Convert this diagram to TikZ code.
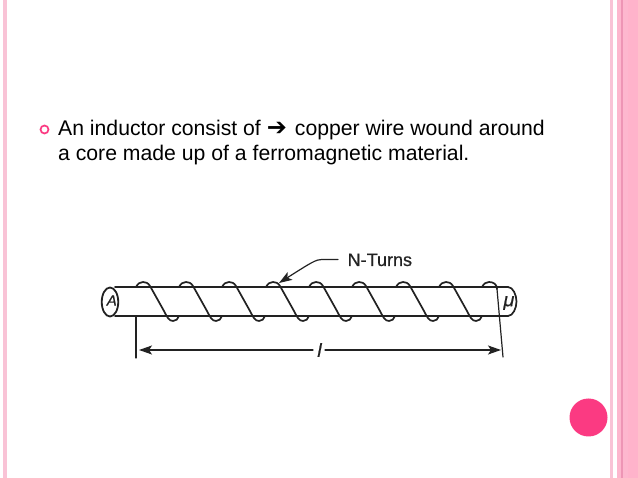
\documentclass[tikz,border=0pt]{standalone}
\usepackage{fontspec}
\setmainfont{Liberation Sans}
\newfontfamily\symfont{DejaVu Sans}
\newfontfamily\heavyfont[FakeBold=0.6]{Liberation Sans}
\newfontfamily\heavyital[FakeBold=0.6,FakeSlant=0.2]{Liberation Sans}
\usetikzlibrary{arrows.meta,shapes.geometric}
\definecolor{stripeA}{HTML}{F9C3D6}
\definecolor{stripeB}{HTML}{FDB7CE}
\definecolor{stripeC}{HTML}{EE95B5}
\definecolor{stripeD}{HTML}{FFB3CB}
\definecolor{hot}{HTML}{FB3A82}
\definecolor{ink}{HTML}{222222}
\tikzset{
  stripe/.style={fill=#1,draw=none},
  wire/.style={draw=ink,line width=1.7pt,line cap=round,line join=round},
  thin wire/.style={draw=ink,line width=1.2pt,line cap=round},
  tip/.style={-{Stealth[length=13pt,width=9pt,inset=3pt]}},
  body text/.style={anchor=base west,inner sep=0pt,font=\fontsize{21.2pt}{25pt}\selectfont,text=black},
  fig text/.style={inner sep=0pt,font=\fontsize{18pt}{20pt}\selectfont\heavyfont,text=ink},
  end label/.style={inner sep=0pt,font=\fontsize{19pt}{20pt}\selectfont\heavyital,text=ink}
}
\newcommand{\oneturn}[1]{%
  \draw[wire] (#1-7,287) .. controls (#1-5,283.5) and (#1-3,282) .. (#1,282)
     .. controls (#1+3,282) and (#1+5,283) .. (#1+7,286)
     -- (#1+21,311)
     .. controls (#1+24,317) and (#1+26,321) .. (#1+30,321)
     .. controls (#1+33,321) and (#1+35,319) .. (#1+36,316);}
\begin{document}
\begin{tikzpicture}[x=1pt,y=-1pt]
\useasboundingbox (0,0) rectangle (638,478);
\fill[white] (0,0) rectangle (638,478);
% borders
\fill[stripe=stripeA] (3,0) rectangle (7,478);
\fill[stripe=stripeA] (610,0) rectangle (613,478);
\fill[stripe=stripeB] (617,0) rectangle (621,478);
\fill[stripe=stripeC] (621,0) rectangle (623,478);
\fill[stripe=stripeB] (623,0) rectangle (628,478);
\fill[stripe=stripeD] (628,0) rectangle (638,478);
% corner disc
\fill[hot] (588.5,417.5) circle (19);
% bullet
\draw[hot,line width=1.7pt] (44.5,129.5) circle (4);
% text
\node[body text] (line1) at (58,135.5) {An inductor consist of {\fontsize{24pt}{25pt}\selectfont\symfont\symbol{"2794}}\hspace{2.2pt} copper wire wound around};
\node[body text] (line2) at (58,160.5) {a core made up of a ferromagnetic material.};
% core
\draw[wire] (115,287) -- (508,287);
\draw[wire] (115,316) -- (508,316);
\draw[wire] (508,287) .. controls (513,287) and (516.5,295) .. (516.5,301.5)
   .. controls (516.5,308) and (513,316) .. (508,316);
\node[draw=ink,line width=1.8pt,ellipse,minimum width=16.5pt,minimum height=29pt,inner sep=0pt] (endA) at (110,302) {};
\node[end label,font=\fontsize{15pt}{16pt}\selectfont\heavyital] (labelA) at (111,300.5) {A};
\node[end label] (labelmu) at (508,303) {μ};
% coil
\oneturn{143}\oneturn{186}\oneturn{229}\oneturn{273}\oneturn{316}\oneturn{359}\oneturn{403}\oneturn{446}
\draw[wire] (482,287) .. controls (484,283.5) and (486,282) .. (489,282)
   .. controls (493,282) and (497,284) .. (497,289);
% dimension
\coordinate (dimL) at (136,316);
\coordinate (dimLb) at (136,358);
\coordinate (dimR) at (497,289);
\coordinate (dimRb) at (503,357);
\draw[thin wire] (dimL) -- (dimLb);
\draw[thin wire] (dimR) -- (dimRb);
\node[end label] (len) at (318.5,350) {l};
\coordinate (arrL) at (139,350);
\coordinate (arrR) at (501,350);
\draw[thin wire,tip] (313,350) -- (arrL);
\draw[thin wire,tip] (325,350) -- (arrR);
% leader
\node[fig text,anchor=base west] (turns) at (347.5,266) {N-Turns};
\coordinate (leadTip) at (279,283);
\draw[thin wire,tip] (338,259.5) -- (322,259.5) .. controls (316,259.5) and (312,262) .. (leadTip);
\end{tikzpicture}
\end{document}
